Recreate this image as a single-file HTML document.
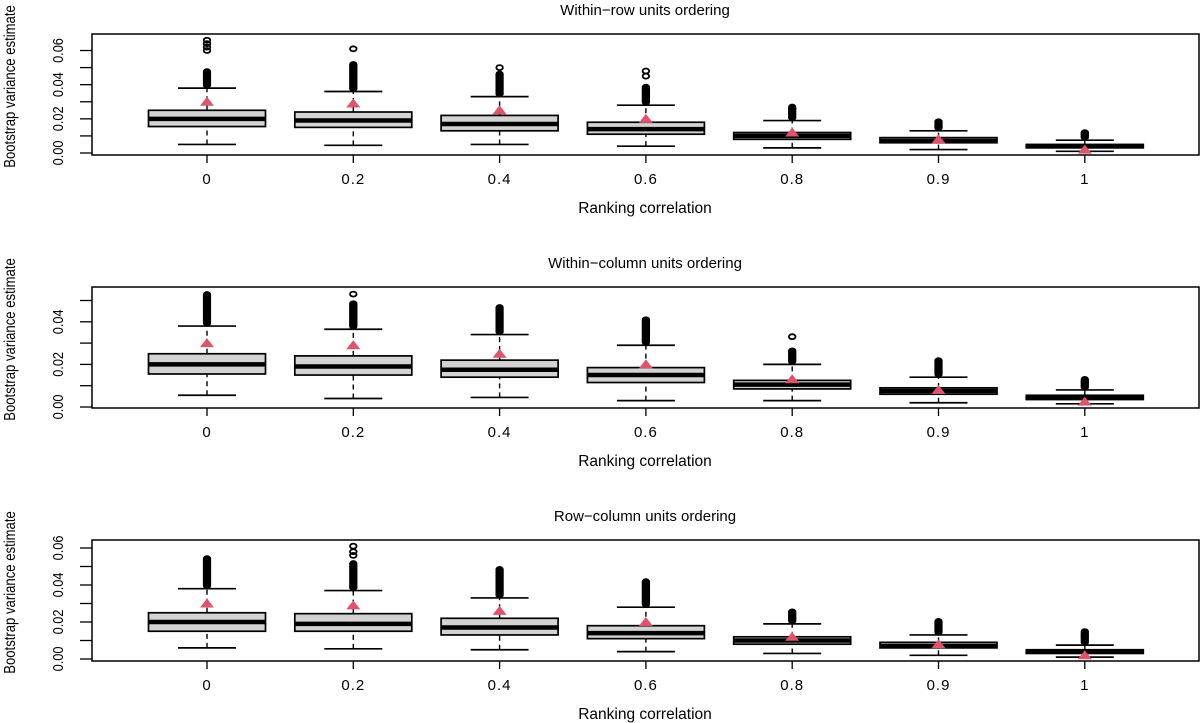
<!DOCTYPE html>
<html><head><meta charset="utf-8">
<style>
html,body{margin:0;padding:0;background:#fff;}
svg{display:block;font-family:"Liberation Sans",sans-serif;}
</style></head>
<body>
<svg id="chart" width="1200" height="723" viewBox="0 0 1200 723"></svg>
<script>
const categories = ["0","0.2","0.4","0.6","0.8","0.9","1"];
const titles = ["Within\u2212row units ordering","Within\u2212column units ordering","Row\u2212column units ordering"];
// per panel: [lowWhisker, Q1, median, Q3, highWhisker]
const stats1 = [[0.005,0.0155,0.020,0.025,0.038],[0.0045,0.015,0.019,0.024,0.036],[0.005,0.013,0.017,0.022,0.033],[0.004,0.011,0.014,0.018,0.028],[0.003,0.008,0.010,0.012,0.019],[0.002,0.006,0.007,0.009,0.013],[0.001,0.003,0.004,0.005,0.0075]];
const stats2 = [[0.0055,0.0155,0.020,0.025,0.038],[0.004,0.015,0.019,0.024,0.0365],[0.0045,0.014,0.0175,0.022,0.034],[0.003,0.0115,0.015,0.0185,0.029],[0.003,0.0085,0.0105,0.0125,0.020],[0.002,0.006,0.0075,0.009,0.014],[0.0015,0.0035,0.0045,0.0055,0.008]];
const stats3 = [[0.006,0.015,0.020,0.025,0.038],[0.0055,0.015,0.019,0.0245,0.037],[0.005,0.013,0.017,0.022,0.033],[0.004,0.011,0.014,0.018,0.028],[0.003,0.008,0.010,0.012,0.019],[0.002,0.006,0.007,0.009,0.013],[0.001,0.003,0.004,0.005,0.0075]];
const means1 = [0.030,0.029,0.025,0.020,0.012,0.008,0.002];
const means2 = [0.030,0.029,0.025,0.020,0.013,0.008,0.0025];
const means3 = [0.030,0.029,0.026,0.020,0.012,0.008,0.002];
const denseMax1 = [0.048,0.052,0.047,0.039,0.027,0.019,0.012];
const denseMax2 = [0.053,0.049,0.047,0.041,0.027,0.022,0.013];
const denseMax3 = [0.055,0.052,0.049,0.042,0.026,0.021,0.015];
const extraOut1 = [[0.060,0.062,0.064,0.066],[0.061],[0.050],[0.045,0.048],[],[],[]];
const extraOut2 = [[],[0.053],[],[],[0.033],[],[]];
const extraOut3 = [[],[0.056,0.058,0.061],[],[],[],[],[]];
const yTicks1 = [0,0.01,0.02,0.03,0.04,0.05,0.06];
const yTicks2 = [0,0.01,0.02,0.03,0.04,0.05];
const yTicks3 = [0,0.01,0.02,0.03,0.04,0.05,0.06];
const yTickLabels1 = ["0.00","","0.02","","0.04","","0.06"];
const yTickLabels2 = ["0.00","","0.02","","0.04",""];
const yTickLabels3 = ["0.00","","0.02","","0.04","","0.06"];

const panels = [
 {top:34,bottom:155,y0:153,pxPer:1708,stats:stats1,means:means1,dense:denseMax1,extra:extraOut1,ticks:yTicks1,labels:yTickLabels1,title:titles[0]},
 {top:287,bottom:408,y0:407,pxPer:2130,stats:stats2,means:means2,dense:denseMax2,extra:extraOut2,ticks:yTicks2,labels:yTickLabels2,title:titles[1]},
 {top:540,bottom:661,y0:659,pxPer:1850,stats:stats3,means:means3,dense:denseMax3,extra:extraOut3,ticks:yTicks3,labels:yTickLabels3,title:titles[2]}
];
const svg = document.getElementById('chart');
const NS = "http://www.w3.org/2000/svg";
function mk(tag, attrs, parent){const e=document.createElementNS(NS,tag);for(const k in attrs)e.setAttribute(k,attrs[k]);(parent||svg).appendChild(e);return e;}
const xPos = i => 207 + i*146.3;
const boxHalf = 58.5, capHalf = 29;

panels.forEach((p,pi)=>{
  const y = v => p.y0 - v*p.pxPer;
  const g = mk('g',{});
  
  
  const t = mk('text',{x:645,y:p.top-19,'text-anchor':'middle','font-size':'15'},g);
  t.textContent=p.title;
  
  
  const frame = mk('rect',{x:92,y:p.top,width:1107,height:p.bottom-p.top,fill:'none',stroke:'#000','stroke-width':1.5},g);
  
  
  const ya = mk('g',{},g);
  
  
  p.ticks.forEach((v,i)=>{
    mk('line',{x1:80,x2:92,y1:y(v),y2:y(v),stroke:'#000','stroke-width':1.3},ya);
    if(p.labels[i]){
      const tl = mk('text',{x:0,y:0,transform:`translate(63,${y(v)}) rotate(-90) scale(0.85,1)`,'text-anchor':'middle','font-size':'15'},ya);
      tl.textContent=p.labels[i];
      
      
    }
  });
  const yl = mk('text',{transform:`translate(15,${(p.top+p.bottom)/2-8}) rotate(-90) scale(0.82,1)`,'text-anchor':'middle','font-size':'16'},g);
  yl.textContent='Bootstrap variance estimate';
  
  
  categories.forEach((c,i)=>{
    mk('line',{x1:xPos(i),x2:xPos(i),y1:p.bottom,y2:p.bottom+8,stroke:'#000','stroke-width':1.3},g);
    const tl = mk('text',{x:xPos(i),y:p.bottom+29,'text-anchor':'middle','font-size':'15','letter-spacing':'1'},g);
    tl.textContent=c;
    
    
  });
  const xl = mk('text',{x:645,y:p.bottom+58,'text-anchor':'middle','font-size':'15.5'},g);
  xl.textContent='Ranking correlation';
  
  
  p.stats.forEach((s,i)=>{
    const cx = xPos(i);
    const bg = mk('g',{},g);
    
    
    mk('line',{x1:cx,x2:cx,y1:y(s[0]),y2:y(s[1]),stroke:'#000','stroke-width':1.4,'stroke-dasharray':'5,4'},bg);
    mk('line',{x1:cx,x2:cx,y1:y(s[3]),y2:y(s[4]),stroke:'#000','stroke-width':1.4,'stroke-dasharray':'5,4'},bg);
    mk('line',{x1:cx-capHalf,x2:cx+capHalf,y1:y(s[0]),y2:y(s[0]),stroke:'#000','stroke-width':1.7},bg);
    mk('line',{x1:cx-capHalf,x2:cx+capHalf,y1:y(s[4]),y2:y(s[4]),stroke:'#000','stroke-width':1.7},bg);
    mk('rect',{x:cx-boxHalf,y:y(s[3]),width:boxHalf*2,height:Math.max(1,y(s[1])-y(s[3])),fill:'#d3d3d3',stroke:'#000','stroke-width':1.7},bg);
    mk('line',{x1:cx-boxHalf,x2:cx+boxHalf,y1:y(s[2]),y2:y(s[2]),stroke:'#000','stroke-width':4.5},bg);
    const y1 = y(s[4])-3, y2 = y(p.dense[i]);
    for(let yy=y1; yy>=y2; yy-=1.5){
      mk('ellipse',{cx:cx,cy:yy,rx:3.3,ry:2.5,fill:'none',stroke:'#000','stroke-width':1.8},bg);
    }
    p.extra[i].forEach(v=>{
      mk('ellipse',{cx:cx,cy:y(v),rx:3.3,ry:2.5,fill:'none',stroke:'#000','stroke-width':1.8},bg);
    });
    const my = y(p.means[i]);
    const m = mk('polygon',{points:`${cx-7},${my+4} ${cx+7},${my+4} ${cx},${my-5}`,fill:'#df536b'},bg);
    
    
  });
});
</script>
</body></html>
